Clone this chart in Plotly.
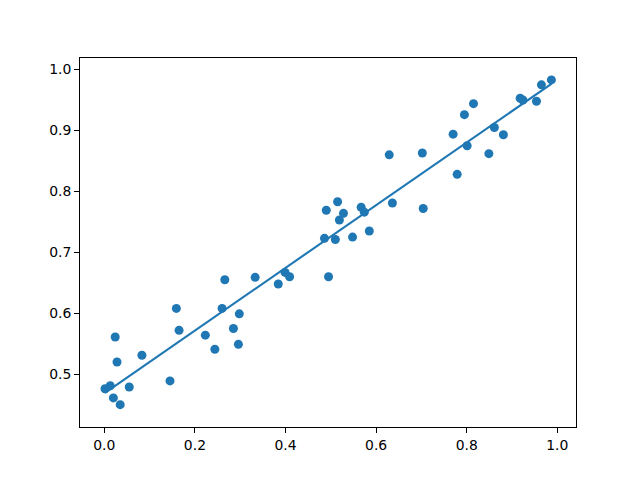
import numpy as np
import plotly.graph_objects as go

x_vals = [0.0015, 0.013, 0.020, 0.024, 0.028, 0.035, 0.055, 0.083, 0.145, 0.159,
          0.165, 0.223, 0.244, 0.260, 0.266, 0.285, 0.296, 0.298, 0.333, 0.384,
          0.399, 0.409, 0.486, 0.490, 0.495, 0.510, 0.515, 0.519, 0.528, 0.548,
          0.567, 0.574, 0.585, 0.629, 0.636, 0.702, 0.704, 0.770, 0.779, 0.795,
          0.801, 0.815, 0.849, 0.861, 0.881, 0.918, 0.924, 0.954, 0.965, 0.987]
y_vals = [0.476, 0.481, 0.461, 0.561, 0.520, 0.450, 0.479, 0.531, 0.489, 0.608,
          0.572, 0.564, 0.541, 0.608, 0.655, 0.575, 0.549, 0.599, 0.659, 0.648,
          0.667, 0.660, 0.723, 0.769, 0.660, 0.721, 0.783, 0.753, 0.764, 0.725,
          0.774, 0.766, 0.735, 0.860, 0.781, 0.863, 0.772, 0.894, 0.828, 0.926,
          0.875, 0.944, 0.862, 0.905, 0.893, 0.953, 0.950, 0.948, 0.975, 0.983]

slope, intercept = np.polyfit(x_vals, y_vals, 1)
xs = np.sort(np.array(x_vals))
fit = slope * xs + intercept

blue = "#1f77b4"
fig = go.Figure()
fig.add_trace(go.Scatter(x=x_vals, y=y_vals, mode="markers",
                         marker=dict(color=blue, size=9, line=dict(width=0)),
                         showlegend=False))
fig.add_trace(go.Scatter(x=xs, y=fit, mode="lines",
                         line=dict(color=blue, width=2.1), showlegend=False))

axis_common = dict(showline=True, linecolor="black", linewidth=1.1, mirror=True,
                   ticks="outside", ticklen=4.9, tickwidth=1.1, tickcolor="black",
                   showgrid=False, zeroline=False,
                   tickfont=dict(family="DejaVu Sans", size=13.9, color="black"))
fig.update_xaxes(range=[-0.0537, 1.0413], tickvals=[0, 0.2, 0.4, 0.6, 0.8, 1.0],
                 tickformat=".1f", **axis_common)
fig.update_yaxes(range=[0.4133, 1.019], tickvals=[0.5, 0.6, 0.7, 0.8, 0.9, 1.0],
                 tickformat=".1f", **axis_common)
fig.update_layout(width=632, height=472, plot_bgcolor="white", paper_bgcolor="white",
                  margin=dict(l=72, r=64, t=49.6, b=52.8, pad=0))
fig.write_html("out.html")
